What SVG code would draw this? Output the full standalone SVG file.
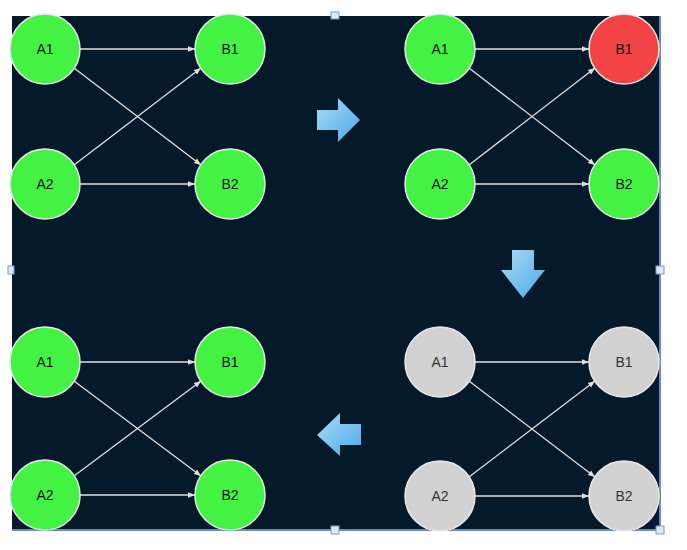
<svg xmlns="http://www.w3.org/2000/svg" width="687" height="550" viewBox="0 0 687 550">
<defs>
<style>
.n{stroke:#e8e8e8;stroke-width:1.5}
.g{fill:#44f244}.r{fill:#f24444}.y{fill:#d2d2d2}
text{font-family:"Liberation Sans",Arial,sans-serif;font-size:14px;text-anchor:middle;dominant-baseline:central;fill:#111}
.gt text{fill:#333}
.c line{stroke:#e0e0e0;stroke-width:1.3;marker-end:url(#ah)}
.h{fill:#dce8f8;stroke:#7a9cc8;stroke-width:1}
</style>
<marker id="ah" viewBox="0 0 10 10" refX="10" refY="5" markerWidth="7" markerHeight="7" orient="auto" markerUnits="userSpaceOnUse"><path d="M0,1 L10,5 L0,9 Z" fill="#e0e0e0"/></marker>
<linearGradient id="bl" x1="0" y1="0" x2="1" y2="1"><stop offset="0" stop-color="#a8dcf8"/><stop offset="1" stop-color="#4fa8e6"/></linearGradient>
</defs>
<rect width="687" height="550" fill="#fff"/>
<rect x="12" y="16" width="648" height="514" fill="#041a2b"/>
<path d="M660,16 V530 H12" fill="none" stroke="#6a8cc0" stroke-width="2"/>
<rect class="h" x="331" y="12" width="8" height="7"/>
<rect class="h" x="8" y="266" width="6" height="8"/>
<rect class="h" x="656" y="266" width="8" height="8"/>
<rect class="h" x="331" y="526" width="8" height="8"/>
<rect class="h" x="656" y="526" width="8" height="8"/>
<g id="connectors" class="c">
<line x1="80" y1="49" x2="195" y2="49"/><line x1="74" y1="68" x2="201" y2="165"/><line x1="74" y1="165" x2="201" y2="68"/><line x1="80" y1="184" x2="195" y2="184"/>
<line x1="475" y1="49" x2="589" y2="49"/><line x1="469" y1="68" x2="595" y2="165"/><line x1="469" y1="165" x2="595" y2="68"/><line x1="475" y1="184" x2="589" y2="184"/>
<line x1="80" y1="362" x2="195" y2="362"/><line x1="74" y1="381" x2="201" y2="476"/><line x1="74" y1="476" x2="201" y2="381"/><line x1="80" y1="495" x2="195" y2="495"/>
<line x1="475" y1="362" x2="589" y2="362"/><line x1="469" y1="381" x2="595" y2="477"/><line x1="469" y1="477" x2="595" y2="381"/><line x1="475" y1="496" x2="589" y2="496"/>
</g>
<g id="arrows" fill="url(#bl)">
<path d="M317,110 H338 V98 L360,120 L338,142 V130 H317 Z"/>
<path d="M512,250 V270 H501 L523,298 L545,270 H534 V250 Z"/>
<path d="M361,424 H340 V413 L317,435 L340,456 V445 H361 Z"/>
</g>
<g id="tl-A1"><circle class="n g" cx="45" cy="49" r="35"/><text x="45" y="49">A1</text></g>
<g id="tl-B1"><circle class="n g" cx="230" cy="49" r="35"/><text x="230" y="49">B1</text></g>
<g id="tl-A2"><circle class="n g" cx="45" cy="184" r="35"/><text x="45" y="184">A2</text></g>
<g id="tl-B2"><circle class="n g" cx="230" cy="184" r="35"/><text x="230" y="184">B2</text></g>
<g id="tr-A1"><circle class="n g" cx="440" cy="49" r="35"/><text x="440" y="49">A1</text></g>
<g id="tr-B1"><circle class="n r" cx="624" cy="49" r="35"/><text x="624" y="49">B1</text></g>
<g id="tr-A2"><circle class="n g" cx="440" cy="184" r="35"/><text x="440" y="184">A2</text></g>
<g id="tr-B2"><circle class="n g" cx="624" cy="184" r="35"/><text x="624" y="184">B2</text></g>
<g id="bl-A1"><circle class="n g" cx="45" cy="362" r="35"/><text x="45" y="362">A1</text></g>
<g id="bl-B1"><circle class="n g" cx="230" cy="362" r="35"/><text x="230" y="362">B1</text></g>
<g id="bl-A2"><circle class="n g" cx="45" cy="495" r="35"/><text x="45" y="495">A2</text></g>
<g id="bl-B2"><circle class="n g" cx="230" cy="495" r="35"/><text x="230" y="495">B2</text></g>
<g id="br-A1" class="gt"><circle class="n y" cx="440" cy="362" r="35"/><text x="440" y="362">A1</text></g>
<g id="br-B1" class="gt"><circle class="n y" cx="624" cy="362" r="35"/><text x="624" y="362">B1</text></g>
<g id="br-A2" class="gt"><circle class="n y" cx="440" cy="496" r="35"/><text x="440" y="496">A2</text></g>
<g id="br-B2" class="gt"><circle class="n y" cx="624" cy="496" r="35"/><text x="624" y="496">B2</text></g>
</svg>
